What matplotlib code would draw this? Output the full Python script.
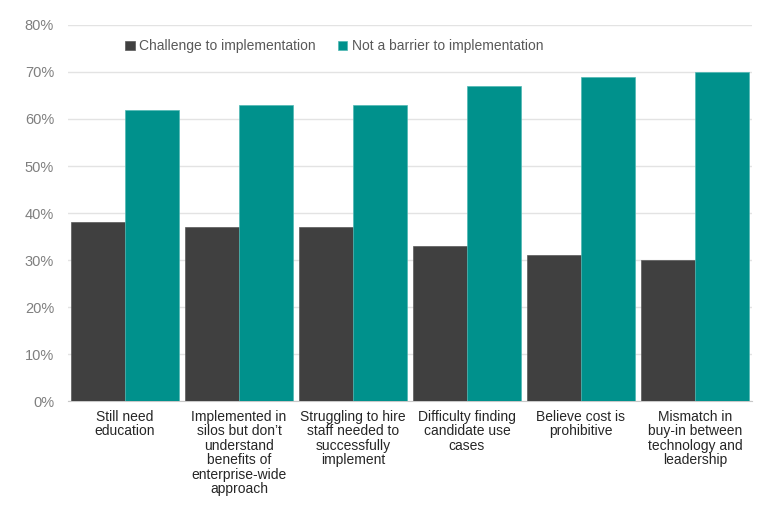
import numpy as np
import matplotlib.pyplot as plt
from matplotlib.ticker import PercentFormatter

categories = ['Still need\neducation',
              'Implemented in\nsilos but don\u2019t\nunderstand\nbenefits of\nenterprise-wide\napproach',
              'Struggling to hire\nstaff needed to\nsuccessfully\nimplement',
              'Difficulty finding\ncandidate use\ncases',
              'Believe cost is\nprohibitive',
              'Mismatch in\nbuy-in between\ntechnology and\nleadership']
challenge = [38, 37, 37, 33, 31, 30]
not_barrier = [62, 63, 63, 67, 69, 70]
series_names = ['Challenge to implementation', 'Not a barrier to implementation']

plt.rcParams['font.family'] = ['Liberation Sans', 'DejaVu Sans']

fig = plt.figure(figsize=(7.68, 5.19), dpi=100)
ax = fig.add_axes([0.0885, 0.227, 0.8905, 0.725])

x = np.arange(len(categories))
w = 0.475
ax.bar(x - w / 2, challenge, w, color='#404040', edgecolor='#5a5a5a', linewidth=0.5, label=series_names[0], zorder=3)
ax.bar(x + w / 2, not_barrier, w, color='#00918c', edgecolor='#4fb8b3', linewidth=0.5, label=series_names[1], zorder=3)

ax.set_ylim(0, 80)
ax.set_xlim(-0.5, len(categories) - 0.5)
ax.set_yticks(np.arange(0, 81, 10))
ax.yaxis.set_major_formatter(PercentFormatter(decimals=0))
ax.grid(axis='y', color='#e3e3e3', linewidth=1, zorder=0)
ax.set_xticks(x)
ax.set_xticklabels(categories, fontsize=10, color='#262626', linespacing=1.05)
ax.tick_params(axis='y', labelsize=10.5, labelcolor='#7f7f7f', length=0, pad=10)
ax.tick_params(axis='x', length=0, pad=6)
for s in ['top', 'right', 'left']:
    ax.spines[s].set_visible(False)
ax.spines['bottom'].set_color('#c8c8c8')

ax.legend(loc='upper left', bbox_to_anchor=(0.065, 0.995), ncol=2, frameon=False,
          fontsize=10, labelcolor='#595959', handlelength=0.7, handleheight=0.7,
          handletextpad=0.3, columnspacing=1.6)

fig.savefig('out.png', dpi=100)
